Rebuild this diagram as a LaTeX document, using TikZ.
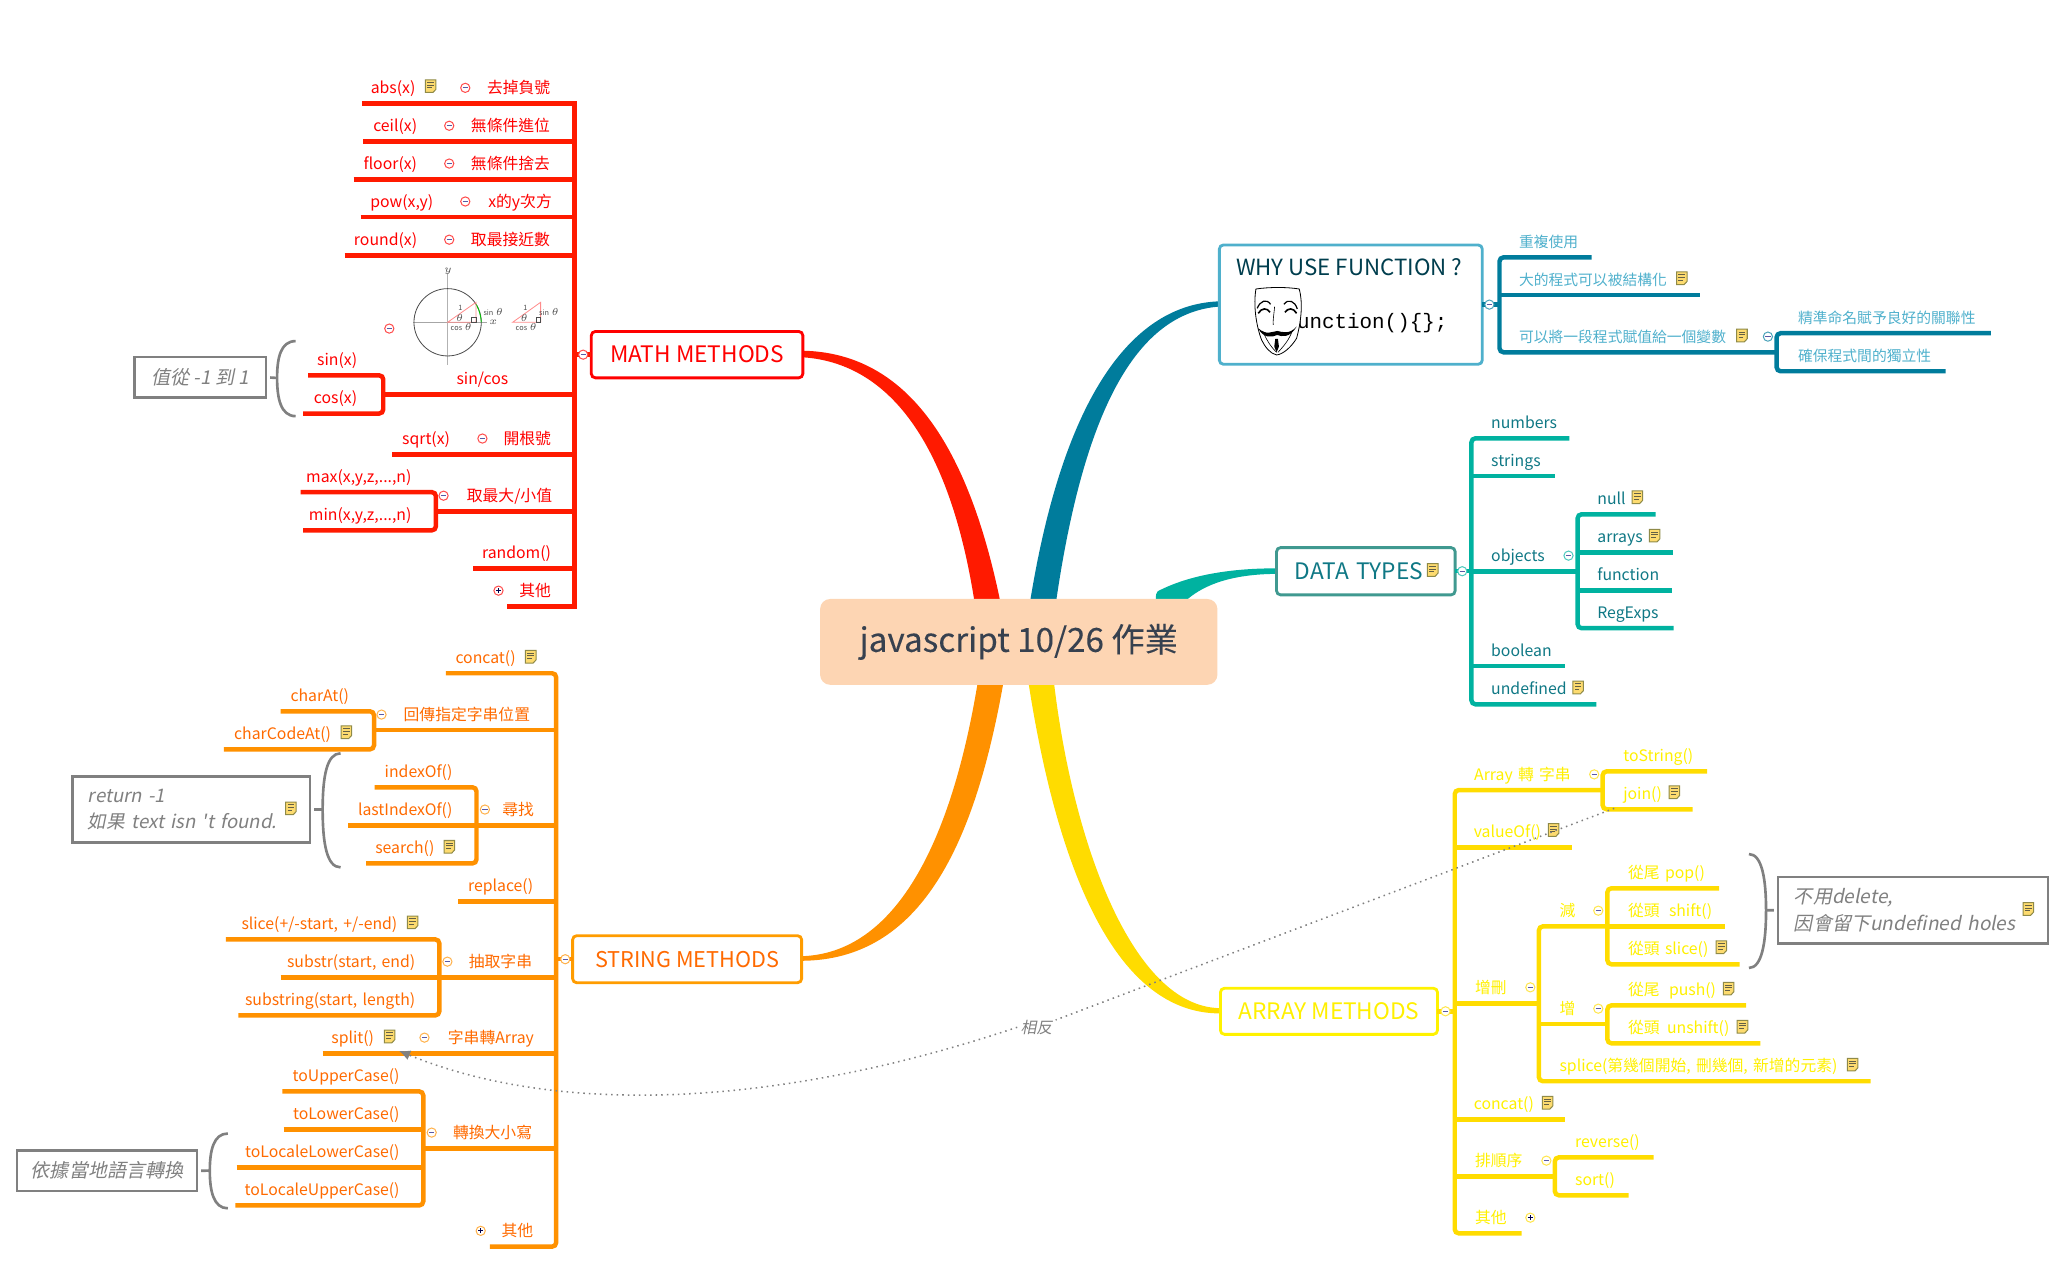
\documentclass[tikz,border=0pt]{standalone}
\usepackage{fontspec}
\setmainfont{Noto Sans CJK TC}[AutoFakeSlant=0.2]
\setmonofont{Liberation Mono}
\newfontfamily\midfont{Noto Sans CJK TC}[FakeBold=0.15]
\newfontfamily\aposfont{Noto Sans CJK TC}[AutoFakeSlant=0.2]
\usepackage{tikz}
\usetikzlibrary{arrows, arrows.meta, calc, backgrounds}
\newdimen\mapu
\mapu=0.65pt
\definecolor{mathline}{HTML}{FF1A00}
\definecolor{strline}{HTML}{FF9100}
\definecolor{strtext}{HTML}{FF6A00}
\definecolor{whyline}{HTML}{007C9C}
\definecolor{whytext}{HTML}{4FB0CC}
\definecolor{datline}{HTML}{00B2A0}
\definecolor{dattext}{HTML}{0F7885}
\definecolor{arrline}{HTML}{FFDC00}
\definecolor{arrtext}{HTML}{FFF000}
\definecolor{midfill}{HTML}{FDD5B3}
\definecolor{midtext}{HTML}{37414F}
\definecolor{notegray}{HTML}{808080}
\tikzset{
    leaf/.style={inner xsep=0pt, inner ysep=2.4pt, outer sep=0pt, text height=9pt, text depth=2.5pt, font=\fontsize{7.8}{9}\selectfont},
    lft/.style 2 args={leaf, anchor=south east, text width=#1*\mapu, align=right, execute at end node={\kern#2\mapu}},
    rgt/.style 2 args={leaf, anchor=south west, text width=#1*\mapu, align=left, execute at begin node={\hspace*{#2\mapu}}},
    whyleaf/.style={text=whytext, font=\fontsize{7.3}{9}\selectfont},
    branch/.style={rectangle, rounded corners=2pt, draw, fill=white, line width=1.4pt, outer sep=0pt, align=center, font=\fontsize{11.2}{14}\selectfont},
    callout/.style={rectangle, draw=notegray, fill=white, line width=1.3pt, outer sep=0pt, text=notegray, font=\fontsize{9.4}{13}\selectfont\itshape},
    bracket/.style={draw=notegray, line width=1.3pt},
    tree/.style={line width=2.2pt, line join=miter},
    note/.pic={
        \filldraw[fill=yellow!55!orange!55, draw=yellow!50!black, line width=0.5pt] (-4,-4.8) -- (4,-4.8) -- (4,2.4) -- (1.8,4.8) -- (-4,4.8) -- cycle;
        \draw[yellow!30!black, line width=0.3pt] (-2.5,-2.8) -- (2.5,-2.8) (-2.5,-0.8) -- (2.5,-0.8) (-2.5,1.2) -- (1,1.2);
    },
    collapsed/.pic={
        \draw[pic actions, fill=white, line width=0.5pt] (0,0) circle (3.5);
        \draw[blue!30!gray, line width=0.5pt] (-2,0) -- (2,0);
    },
    expanded/.pic={
        \draw[pic actions, fill=white, line width=0.5pt] (0,0) circle (3.5);
        \draw[blue!30!black, line width=0.5pt] (-2,0) -- (2,0) (0,-2) -- (0,2);
    }
}
\begin{document}
\begin{tikzpicture}[x=0.65pt, y=-0.65pt]
    \useasboundingbox (0,0) rectangle (1568,960);

    % Centre and branches
    \node [rectangle, rounded corners=5pt, fill=midfill, text=midtext, minimum width=301.7*\mapu, minimum height=65.2*\mapu, font=\midfont\fontsize{16.4}{18}\selectfont] (central) at (773.55,487.4) {javascript 10/26 作業};
    \node [branch, draw=red, text=red, minimum width=160.6*\mapu, minimum height=35.2*\mapu] (math) at (529.3,269.3) {MATH METHODS};
    \node [branch, draw=strline!90!yellow, text=strtext, minimum width=173.9*\mapu, minimum height=35.7*\mapu, font=\fontsize{10.7}{14}\selectfont] (string) at (521.75,728.35) {STRING METHODS};
    \node [branch, draw=whytext, minimum width=199.6*\mapu, minimum height=90.6*\mapu] (why) at (1025.7,231.3) {};
    \node [branch, draw=datline!50!gray, text=dattext, minimum width=135.6*\mapu, minimum height=35.9*\mapu, text width=108*\mapu, align=left] (data) at (1037.1,433.75) {DATA TYPES};
    \node [branch, draw=yellow, text=arrtext, minimum width=164.8*\mapu, minimum height=35*\mapu] (array) at (1009.1,767.9) {ARRAY METHODS};

    \begin{scope}[on background layer]
        \fill [mathline] ($(central.north)+(-34,10)$) -- ($(central.north)+(-14.5,10)$) -- ($(central.north)+(-14.5,0)$) .. controls (735,340) and (690,268) .. ($(math.east)+(0,-3)$) -- ($(math.east)+(0,2)$) .. controls (680,276) and (722,345) .. ($(central.north)+(-34,0)$) -- cycle;
        \fill [whyline] ($(central.north)+(9,10)$) -- ($(central.north)+(28.7,10)$) -- ($(central.north)+(28.7,0)$) .. controls (825,300) and (868,237) .. ($(why.west)+(0,1.5)$) -- ($(why.west)+(0,-2.5)$) .. controls (860,231) and (808,300) .. ($(central.north)+(9,0)$) -- cycle;
        \fill [datline] ($(data.west)+(0,-2.2)$) .. controls (930,431.5) and (900,438) .. (879,449) .. controls (878,450) and (877.6,452) .. (877.6,455) -- ($(central.north)+(104,10)$) -- ($(central.north)+(128.7,10)$) -- ($(central.north)+(128.7,0)$) .. controls (915,444) and (935,436) .. ($(data.west)+(0,2)$) -- cycle;
        \fill [strline] ($(central.south)+(-31.5,-10)$) -- ($(central.south)+(-12,-10)$) -- ($(central.south)+(-12,0)$) .. controls (740,640) and (700,729) .. ($(string.east)+(0,1.2)$) -- ($(string.east)+(0,-2.3)$) .. controls (680,724) and (722,640) .. ($(central.south)+(-31.5,0)$) -- cycle;
        \fill [arrline] ($(central.south)+(7.7,-10)$) -- ($(central.south)+(27,-10)$) -- ($(central.south)+(27,0)$) .. controls (815,640) and (860,765) .. ($(array.west)+(0,-2.4)$) -- ($(array.west)+(0,1.6)$) .. controls (840,770) and (800,640) .. ($(central.south)+(7.7,0)$) -- cycle;
    \end{scope}

    % Math methods
    \node [lft={91.3}{18.5}, text=red] (absd) at (436.3,78.7) {去掉負號};
    \node [lft={70.3}{29.6}, text=red] (abs) at (345,78.7) {abs(x)};
    \node [lft={106.3}{18.7}, text=red] (ceild) at (436.3,107.4) {無條件進位};
    \node [lft={54}{13.3}, text=red] (ceil) at (330,107.4) {ceil(x)};
    \node [lft={106.3}{18.7}, text=red] (floord) at (436.3,136.2) {無條件捨去};
    \node [lft={61.5}{13.3}, text=red] (floor) at (330,136.2) {floor(x)};
    \node [lft={91.3}{17.3}, text=red] (powd) at (436.3,164.9) {x的y次方};
    \node [lft={71.1}{16}, text=red] (pow) at (345,164.9) {pow(x,y)};
    \node [lft={106.3}{18.7}, text=red] (roundd) at (436.3,193.9) {取最接近數};
    \node [lft={68.3}{13.3}, text=red] (round) at (330,193.9) {round(x)};
    \node [lft={145.3}{50.4}, text=red] (sincos) at (436.3,299.4) {sin/cos};
    \node [lft={57}{19.8}, text=red] (sin) at (291,285) {sin(x)};
    \node [lft={60.8}{19.8}, text=red] (cos) at (291,314) {cos(x)};
    \node [lft={76.3}{17.9}, text=red] (sqrtd) at (436.3,345.2) {開根號};
    \node [lft={62}{18.3}, text=red] (sqrt) at (360,345.2) {sqrt(x)};
    \node [lft={105.3}{17.1}, text=red] (maxmin) at (436.3,388.3) {取最大/小值};
    \node [lft={102.7}{18.6}, text=red] (max) at (331,373.7) {max(x,y,z,...,n)};
    \node [lft={100.8}{18.6}, text=red] (min) at (331,402.7) {min(x,y,z,...,n)};
    \node [lft={77}{17.9}, text=red] (random) at (436.3,431.7) {random()};
    \node [lft={51}{17.9}, text=red] (mathother) at (436.3,460.5) {其他};
    \coordinate (mathbar) at (436.3,269.3);

    \draw [tree, mathline] (abs.south west) -- (absd.south east) -- (mathother.south east) -- (mathother.south west);
    \draw [tree, mathline] (ceil.south west) -- (ceild.south east);
    \draw [tree, mathline] (floor.south west) -- (floord.south east);
    \draw [tree, mathline] (pow.south west) -- (powd.south east);
    \draw [tree, mathline] (round.south west) -- (roundd.south east);
    \draw [tree, mathline] (sincos.south west) -- (sincos.south east);
    \draw [tree, mathline, rounded corners=2pt] (sin.south west) -- (sin.south east) -- (cos.south east) -- (cos.south west);
    \draw [tree, mathline] (sqrt.south west) -- (sqrtd.south east);
    \draw [tree, mathline] (maxmin.south west) -- (maxmin.south east);
    \draw [tree, mathline, rounded corners=2pt] (max.south west) -- (max.south east) -- (min.south east) -- (min.south west);
    \draw [tree, mathline] (random.south west) -- (random.south east);
    \draw [tree, mathline] (mathbar) -- (math.west);

    % Unit circle
    \begin{scope}[shift={(303.7,197.4)}, x=0.1645pt, y=-0.1645pt, every node/.style={inner sep=0pt, text=black!70, font=\fontsize{3.6}{4}\selectfont}]
        \draw [gray!70, line width=0.3pt] (40,187) -- (262,187);
        \draw [gray!60, line width=0.5pt] (143,40) -- (143,315);
        \draw [black!70, line width=0.4pt] (143,187) circle (101);
        \draw [green!80!black, line width=0.4pt] (228,132) .. controls (238,150) and (243,168) .. (244,187);
        \draw [red!45, line width=0.4pt] (143,187) -- (228,127) -- (228,187) -- cycle;
        \draw [black!70, line width=0.3pt] (214,173) rectangle (228,187);
        \draw [red!45, line width=0.4pt] (338,187) -- (422,127) -- (422,187) -- cycle;
        \draw [black!70, line width=0.3pt] (408,173) rectangle (422,187);
        \node (circy) at (144,34) {$y$};
        \node (circx) at (280,187) {$x$};
        \node (circone) at (181,143) {1};
        \node (circth) at (179,174) {$\theta$};
        \node (circcos) at (184,201) {$\cos\theta$};
        \node (circsin) at (280,157) {$\sin\theta$};
        \node (sideone) at (376,143) {1};
        \node (sideth) at (373,174) {$\theta$};
        \node (sidecos) at (379,201) {$\cos\theta$};
        \node (sidesin) at (447,157) {$\sin\theta$};
    \end{scope}

    \pic at (327,65.4) {note};
    \pic [draw=red!70] at (353.3,66.7) {collapsed};
    \pic [draw=red!70] at (341.1,95.5) {collapsed};
    \pic [draw=red!70] at (341.1,124.2) {collapsed};
    \pic [draw=red!70] at (353.3,153) {collapsed};
    \pic [draw=red!70] at (341.1,182) {collapsed};
    \pic [draw=red!70] at (295.6,249.5) {collapsed};
    \pic [draw=red!70] at (366.3,333) {collapsed};
    \pic [draw=red!70] at (336.8,376.4) {collapsed};
    \pic [draw=red!70] at (378.5,448.5) {expanded};
    \pic [draw=red!70] at (442.8,269.3) {collapsed};

    \node [callout, minimum width=100*\mapu, minimum height=31*\mapu] (sinnote) at (152,286.5) {值從 -1 到 1};
    \coordinate (sinbrace) at (210.4,287);
    \draw [bracket] (224.5,259) .. controls (213,259) and (210.4,272) .. (sinbrace) .. controls (210.4,302) and (213,316) .. (224.5,316);
    \draw [bracket, shorten <=2pt] (sinnote.east) -- (sinbrace);

    % String methods
    \node [lft={83.7}{30.8}, text=strtext] (concat) at (422.3,511.2) {concat()};
    \node [lft={138.3}{19.8}, text=strtext] (charpos) at (422.3,554.5) {回傳指定字串位置};
    \node [lft={71}{19}, text=strtext] (charat) at (284,540.1) {charAt()};
    \node [lft={114}{32.6}, text=strtext] (charcode) at (284,569) {charCodeAt()};
    \node [lft={60.5}{16.9}, text=strtext] (find) at (422.3,626.7) {尋找};
    \node [lft={77.3}{18.3}, text=strtext] (indexof) at (361.8,597.8) {indexOf()};
    \node [lft={97.3}{18.3}, text=strtext] (lastindex) at (361.8,626.7) {lastIndexOf()};
    \node [lft={83.8}{32}, text=strtext] (search) at (361.8,655.6) {search()};
    \node [lft={74.3}{17.5}, text=strtext] (replace) at (422.3,684.4) {replace()};
    \node [lft={88.7}{18.3}, text=strtext] (extract) at (422.3,742.1) {抽取字串};
    \node [lft={162.1}{31.9}, text=strtext] (slice) at (333.6,713.3) {slice(+/-start, +/-end)};
    \node [lft={120.6}{18.3}, text=strtext] (substr) at (333.6,742.1) {substr(start, end)};
    \node [lft={152.6}{18.3}, text=strtext] (substring) at (333.6,771) {substring(start, length)};
    \node [lft={112}{16.9}, text=strtext] (toarr) at (422.3,799.9) {字串轉Array};
    \node [lft={65.3}{26.3}, text=strtext] (split) at (310.3,799.9) {split()};
    \node [lft={100.9}{18.3}, text=strtext] (caseconv) at (422.3,872) {轉換大小寫};
    \node [lft={106.9}{18}, text=strtext] (upper) at (321.4,828.7) {toUpperCase()};
    \node [lft={106.1}{18}, text=strtext] (lower) at (321.4,857.6) {toLowerCase()};
    \node [lft={141.8}{18}, text=strtext] (llower) at (321.4,886.4) {toLocaleLowerCase()};
    \node [lft={142.7}{18}, text=strtext] (lupper) at (321.4,915.3) {toLocaleUpperCase()};
    \node [lft={50.3}{17.5}, text=strtext] (strother) at (422.3,946.6) {其他};
    \coordinate (strbar) at (422.3,728.35);

    \draw [tree, strline, rounded corners=2pt] (concat.south west) -- (concat.south east) -- (strother.south east) -- (strother.south west);
    \draw [tree, strline] (charpos.south west) -- (charpos.south east);
    \draw [tree, strline, rounded corners=2pt] (charat.south west) -- (charat.south east) -- (charcode.south east) -- (charcode.south west);
    \draw [tree, strline] (find.south west) -- (find.south east);
    \draw [tree, strline, rounded corners=2pt] (indexof.south west) -- (indexof.south east) -- (search.south east) -- (search.south west);
    \draw [tree, strline] (lastindex.south west) -- (lastindex.south east);
    \draw [tree, strline] (replace.south west) -- (replace.south east);
    \draw [tree, strline] (extract.south west) -- (extract.south east);
    \draw [tree, strline, rounded corners=2pt] (slice.south west) -- (slice.south east) -- (substring.south east) -- (substring.south west);
    \draw [tree, strline] (substr.south west) -- (substr.south east);
    \draw [tree, strline] (split.south west) -- (toarr.south east);
    \draw [tree, strline] (caseconv.south west) -- (caseconv.south east);
    \draw [tree, strline, rounded corners=2pt] (upper.south west) -- (upper.south east) -- (lupper.south east) -- (lupper.south west);
    \draw [tree, strline] (lower.south west) -- (lower.south east);
    \draw [tree, strline] (llower.south west) -- (llower.south east);
    \draw [tree, strline] (strbar) -- (string.west);

    \pic at (403,498.7) {note};
    \pic at (263,556) {note};
    \pic at (341.2,643) {note};
    \pic at (313.3,700.4) {note};
    \pic at (295.8,787) {note};
    \pic [draw=strline!70] at (289.7,542.6) {collapsed};
    \pic [draw=strline!70] at (368.2,614.7) {collapsed};
    \pic [draw=strline!70] at (339.7,730.2) {collapsed};
    \pic [draw=strline!70] at (322.3,787.9) {collapsed};
    \pic [draw=strline!70] at (327.8,860) {collapsed};
    \pic [draw=strline!70] at (365,934.6) {expanded};
    \pic [draw=strline!70] at (429.2,728.35) {collapsed};

    \node [callout, minimum width=180.2*\mapu, minimum height=50.4*\mapu, text width=157*\mapu, inner xsep=11.6*\mapu, align=left, font=\fontsize{9.2}{13}\selectfont\itshape] (findnote) at (145.3,614.7) {return -1\\如果 text isn{\aposfont\itshape\ '}t found.};
    \coordinate (findbrace) at (245,614.7);
    \draw [bracket] (258.6,572) .. controls (248,572) and (245,590) .. (findbrace) .. controls (245,640) and (248,658.6) .. (258.6,658.6);
    \draw [bracket, shorten <=2pt] (findnote.east) -- (findbrace);
    \pic at (220.9,613.8) {note};

    \node [callout, minimum width=136.7*\mapu, minimum height=30.7*\mapu] (localenote) at (81.35,888.95) {依據當地語言轉換};
    \coordinate (localebrace) at (159.3,888.9);
    \draw [bracket] (173,860.7) .. controls (162,860.7) and (159.3,874) .. (localebrace) .. controls (159.3,904) and (162,917.5) .. (173,917.5);
    \draw [bracket, shorten <=2pt] (localenote.east) -- (localebrace);

    % Why use function
    \node [inner sep=0pt, text=whyline!50!black, font=\fontsize{11}{14}\selectfont] (whytitle) at (1024.4,203) {WHY USE FUNCTION ?};
    \node [inner sep=0pt, text=black, font=\fontsize{10.3}{12}\ttfamily] (whycode) at (1037.2,245.6) {function()\{\};};
    \begin{scope}[shift={(941.5,208.8)}, x=0.1645pt, y=-0.1645pt]
        \filldraw [fill=white, draw=black, line width=0.4pt] (48,42) .. controls (90,36) and (140,36) .. (178,42) .. controls (188,80) and (186,130) .. (170,190) .. controls (155,215) and (130,238) .. (110,240) .. controls (90,236) and (75,215) .. (65,195) .. controls (48,150) and (40,90) .. (48,42) -- cycle;
        \draw [black, line width=0.6pt] (52,100) .. controls (60,78) and (80,70) .. (92,88) (132,88) .. controls (145,70) and (165,78) .. (172,102);
        \draw [black, line width=0.8pt] (55,115) .. controls (65,98) and (82,98) .. (90,112) (135,112) .. controls (145,98) and (160,98) .. (170,115);
        \draw [black, line width=0.3pt] (104,95) .. controls (102,120) and (98,140) .. (100,150) (68,168) .. controls (80,195) and (92,215) .. (110,232) (158,165) .. controls (148,195) and (130,215) .. (114,232);
        \fill [black] (55,160) .. controls (80,182) and (95,170) .. (112,168) .. controls (130,172) and (150,178) .. (170,155) .. controls (150,190) and (125,185) .. (112,180) .. controls (95,188) and (70,190) .. (55,160) -- cycle;
        \fill [black] (106,192) -- (114,192) -- (117,215) -- (110,232) -- (103,215) -- cycle;
    \end{scope}
    \node [rgt={69.9}{14.8}, whyleaf] (reuse) at (1138.6,195.4) {重複使用};
    \node [rgt={151.9}{14.8}, whyleaf] (struct) at (1138.6,224.2) {大的程式可以被結構化};
    \node [rgt={210.4}{14.8}, whyleaf] (assign) at (1138.6,267.5) {可以將一段程式賦值給一個變數};
    \node [rgt={162.7}{16.3}, whyleaf] (naming) at (1349,253) {精準命名賦予良好的關聯性};
    \node [rgt={128.3}{16.3}, whyleaf] (indep) at (1349,281.9) {確保程式間的獨立性};
    \coordinate (whybar) at (1138.6,231.3);

    \draw [tree, whyline, rounded corners=2pt] (reuse.south east) -- (reuse.south west) -- (assign.south west) -- (assign.south east);
    \draw [tree, whyline] (struct.south west) -- (struct.south east);
    \draw [tree, whyline, rounded corners=2pt] (naming.south east) -- (naming.south west) -- (indep.south west) -- (indep.south east);
    \draw [tree, whyline] (why.east) -- (whybar);

    \pic at (1277,211.3) {note};
    \pic at (1322.7,254.8) {note};
    \pic [draw=whyline!70] at (1342.4,255.6) {collapsed};
    \pic [draw=whyline!70] at (1130.9,231.3) {collapsed};

    % Data types
    \node [rgt={74.4}{15}, text=dattext] (numbers) at (1117.3,332.8) {numbers};
    \node [rgt={63.2}{15}, text=dattext] (strings) at (1117.3,361.6) {strings};
    \node [rgt={80.6}{15}, text=dattext] (objects) at (1117.3,433.8) {objects};
    \node [rgt={59.3}{15}, text=dattext] (nulls) at (1197.9,390.5) {null};
    \node [rgt={72.1}{15}, text=dattext] (arrays) at (1197.9,419.4) {arrays};
    \node [rgt={71.3}{15}, text=dattext] (funcs) at (1197.9,448.5) {function};
    \node [rgt={72.9}{15}, text=dattext] (regexps) at (1197.9,477) {RegExps};
    \node [rgt={71.3}{15}, text=dattext] (boolean) at (1117.3,505.9) {boolean};
    \node [rgt={94.9}{15}, text=dattext] (undef) at (1117.3,534.8) {undefined};
    \coordinate (datbar) at (1117.3,433.75);

    \draw [tree, datline, rounded corners=2pt] (numbers.south east) -- (numbers.south west) -- (undef.south west) -- (undef.south east);
    \draw [tree, datline] (strings.south west) -- (strings.south east);
    \draw [tree, datline] (objects.south west) -- (objects.south east);
    \draw [tree, datline, rounded corners=2pt] (nulls.south east) -- (nulls.south west) -- (regexps.south west) -- (regexps.south east);
    \draw [tree, datline] (arrays.south west) -- (arrays.south east);
    \draw [tree, datline] (funcs.south west) -- (funcs.south east);
    \draw [tree, datline] (boolean.south west) -- (boolean.south east);
    \draw [tree, datline] (data.east) -- (datbar);

    \pic at (1087.9,432.8) {note};
    \pic at (1243.2,377.6) {note};
    \pic at (1256.4,406.7) {note};
    \pic at (1198.3,522) {note};
    \pic [draw=datline!70] at (1191,421.9) {collapsed};
    \pic [draw=datline!70] at (1110.3,433.75) {collapsed};

    % Array methods
    \node [rgt={112.3}{14.8}, text=arrtext] (arrstr) at (1104.6,599.9) {Array 轉 字串};
    \node [rgt={79.3}{15.7}, text=arrtext] (tostring) at (1216.9,585.7) {toString()};
    \node [rgt={68.4}{15.7}, text=arrtext] (joins) at (1216.9,614.5) {join()};
    \node [rgt={88.7}{14.5}, text=arrtext] (valueof) at (1104.6,643.4) {valueOf()};
    \node [rgt={63.9}{15.4}, text=arrtext] (addrm) at (1104.6,761.8) {增刪};
    \node [rgt={52}{15.7}, text=arrtext] (rms) at (1168.5,703.4) {減};
    \node [rgt={52}{15.7}, text=arrtext] (adds) at (1168.5,777.5) {增};
    \node [rgt={84.8}{15.8}, text=arrtext] (pop) at (1220.5,674.5) {從尾\hspace{4\mapu}pop()};
    \node [rgt={89}{15.8}, text=arrtext] (shift) at (1220.5,703.4) {從頭\hspace{7\mapu}shift()};
    \node [rgt={100.5}{15.8}, text=arrtext] (aslice) at (1220.5,732.2) {從頭\hspace{4\mapu}slice()};
    \node [rgt={105.3}{15.8}, text=arrtext] (push) at (1220.5,763.4) {從尾\hspace{7\mapu}push()};
    \node [rgt={116.2}{15.8}, text=arrtext] (unshift) at (1220.5,792.2) {從頭\hspace{5.5\mapu}unshift()};
    \node [rgt={251.8}{15.7}, text=arrtext] (splice) at (1168.5,821) {splice(第幾個開始, 刪幾個, 新增的元素)};
    \node [rgt={84.1}{14.5}, text=arrtext] (aconcat) at (1104.6,849.9) {concat()};
    \node [rgt={76}{15.4}, text=arrtext] (ordering) at (1104.6,893.2) {排順序};
    \node [rgt={75}{15.4}, text=arrtext] (reverse) at (1180.6,878.8) {reverse()};
    \node [rgt={56}{15.4}, text=arrtext] (sorts) at (1180.6,907.6) {sort()};
    \node [rgt={50.8}{15.4}, text=arrtext] (arrother) at (1104.6,936.5) {其他};
    \coordinate (arrbar) at (1104.6,767.9);

    \draw [tree, arrline, rounded corners=2pt] (arrstr.south east) -- (arrstr.south west) -- (arrother.south west) -- (arrother.south east);
    \draw [tree, arrline, rounded corners=2pt] (tostring.south east) -- (tostring.south west) -- (joins.south west) -- (joins.south east);
    \draw [tree, arrline] (valueof.south west) -- (valueof.south east);
    \draw [tree, arrline] (addrm.south west) -- (addrm.south east);
    \draw [tree, arrline, rounded corners=2pt] (rms.south east) -- (rms.south west) -- (splice.south west) -- (splice.south east);
    \draw [tree, arrline] (adds.south west) -- (adds.south east);
    \draw [tree, arrline, rounded corners=2pt] (pop.south east) -- (pop.south west) -- (aslice.south west) -- (aslice.south east);
    \draw [tree, arrline] (shift.south west) -- (shift.south east);
    \draw [tree, arrline, rounded corners=2pt] (push.south east) -- (push.south west) -- (unshift.south west) -- (unshift.south east);
    \draw [tree, arrline] (aconcat.south west) -- (aconcat.south east);
    \draw [tree, arrline] (ordering.south west) -- (ordering.south east);
    \draw [tree, arrline, rounded corners=2pt] (reverse.south east) -- (reverse.south west) -- (sorts.south west) -- (sorts.south east);
    \draw [tree, arrline] (array.east) -- (arrbar);

    \pic at (1271.4,601.6) {note};
    \pic at (1179.7,630.2) {note};
    \pic at (1307,719.3) {note};
    \pic at (1312.5,750.7) {note};
    \pic at (1323.1,779.6) {note};
    \pic at (1406.7,808.4) {note};
    \pic at (1175.1,837.3) {note};
    \pic [draw=arrline!70] at (1210.5,588) {collapsed};
    \pic [draw=arrline!70] at (1162,749.7) {collapsed};
    \pic [draw=arrline!70] at (1213.6,691.5) {collapsed};
    \pic [draw=arrline!70] at (1213.6,765.9) {collapsed};
    \pic [draw=arrline!70] at (1174.2,881.3) {collapsed};
    \pic [draw=arrline!70] at (1162,924.6) {expanded};
    \pic [draw=arrline!70] at (1097.6,767.9) {collapsed};

    \node [callout, minimum width=205*\mapu, minimum height=50.4*\mapu, text width=180.6*\mapu, inner xsep=12.2*\mapu, align=left] (holenote) at (1452.5,691.1) {不用delete,\\因會留下undefined holes};
    \coordinate (holebrace) at (1341,691.2);
    \draw [bracket] (1328,648.5) .. controls (1338,648.5) and (1341,668) .. (holebrace) .. controls (1341,715) and (1338,735) .. (1328,735);
    \draw [bracket, shorten <=2pt] (holenote.west) -- (holebrace);
    \pic at (1540.1,690.2) {note};

    % Relationship
    \coordinate (relfrom) at (1225.7,613.8);
    \coordinate (relto) at (303,798);
    \node [inner sep=1.5pt, text=notegray, font=\fontsize{7.8}{9}\selectfont\itshape] (opposite) at (787,780) {相反};
    \draw [draw=notegray, line width=0.75pt, dotted] (relfrom) -- (opposite);
    \draw [-{Latex[length=5.5pt, width=5pt, fill=notegray]}, draw=notegray, line width=0.75pt, dotted] (opposite.west) .. controls (600,838) and (430,850) .. (relto);
\end{tikzpicture}
\end{document}
